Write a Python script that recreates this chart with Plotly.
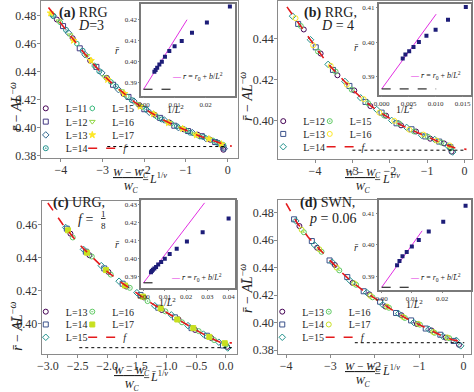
import plotly.graph_objects as go

W, H = 474, 392
FONT = "Liberation Serif"
GRAY = "#8a8a8a"

# ---------------- panel (a): RRG, D=3 ----------------
a_L11_x = [-4.10, -3.72, -3.30, -2.90, -2.50, -2.12, -1.75, -1.40, -1.05, -0.72, -0.42, -0.12, -0.10]
a_L11_y = [0.4772, 0.4638, 0.4478, 0.4355, 0.4240, 0.4160, 0.4090, 0.4035, 0.3986, 0.3948, 0.3912, 0.3868, 0.3840]
a_L12_x = [-3.95, -3.55, -3.15, -2.75, -2.38, -2.00, -1.62, -1.28, -0.95, -0.62, -0.30, -0.10]
a_L12_y = [0.4725, 0.4566, 0.4433, 0.4305, 0.4218, 0.4130, 0.4068, 0.4012, 0.3974, 0.3937, 0.3895, 0.3856]
a_L13_x = [-4.20, -3.82, -3.42, -3.02, -2.62, -2.25, -1.88, -1.52, -1.18, -0.85, -0.52, -0.20, -0.08]
a_L13_y = [0.4800, 0.4676, 0.4520, 0.4390, 0.4270, 0.4188, 0.4108, 0.4053, 0.3998, 0.3963, 0.3920, 0.3885, 0.3848]
a_L14_x = [-4.18, -3.88, -3.48, -3.08, -2.68, -2.30, -1.95, -1.58, -1.22, -0.90, -0.58, -0.25]
a_L14_y = [0.4798, 0.4698, 0.4548, 0.4402, 0.4293, 0.4195, 0.4127, 0.4057, 0.4008, 0.3962, 0.3931, 0.3890]
a_L15_x = [-4.22, -4.02, -3.62, -3.20, -2.80, -2.42, -2.05, -1.70, -1.35, -1.00, -0.68, -0.35, -0.10]
a_L15_y = [0.4810, 0.4752, 0.4600, 0.4442, 0.4325, 0.4222, 0.4146, 0.4076, 0.4028, 0.3980, 0.3936, 0.3906, 0.3875]
a_L16_x = [-4.05, -3.78, -3.38, -2.95, -2.55, -2.18, -1.82, -1.46, -1.12, -0.80, -0.48, -0.18]
a_L16_y = [0.4760, 0.4660, 0.4512, 0.4360, 0.4260, 0.4168, 0.4102, 0.4038, 0.3996, 0.3952, 0.3921, 0.3884]
a_L17_x = [-4.25, -3.70, -3.28, -2.88, -2.48, -2.10, -1.78, -1.42, -1.08, -0.75, -0.45, -0.15]
a_L17_y = [0.4818, 0.4622, 0.4478, 0.4342, 0.4242, 0.4150, 0.4096, 0.4032, 0.3990, 0.3945, 0.3917, 0.3880]
a_f_x = [-4.30, -4.00, -3.75, -3.50, -3.25, -3.00, -2.75, -2.50, -2.25, -2.00, -1.75, -1.50, -1.25,
         -1.00, -0.75, -0.50, -0.25, 0.00, 0.10]
a_f_y = [0.4858, 0.4741, 0.4645, 0.4552, 0.4463, 0.4380, 0.4308, 0.4243, 0.4185, 0.4133, 0.4087, 0.4047,
         0.4010, 0.3977, 0.3948, 0.3920, 0.3893, 0.3870, 0.3866]
a_base_x = [-2.89, -0.02]
a_base_y = [0.3863, 0.3863]
# inset (a)
ia_x = [0.0278, 0.0204, 0.0156, 0.0123, 0.0100, 0.0083, 0.0069, 0.0059, 0.0051, 0.0044, 0.0039, 0.0035]
ia_y = [0.4263, 0.4187, 0.4137, 0.4098, 0.4073, 0.4050, 0.4022, 0.3999, 0.3986, 0.3970, 0.3959, 0.3951]
ia_fit_x = [0.0, 0.0140]
ia_fit_y = [0.3866, 0.4200]
ia_r0_x = [0.0, 0.0098]
ia_r0_y = [0.3867, 0.3867]

# ---------------- panel (b): RRG, D=4 ----------------
b_L12_x = [-4.30, -3.85, -3.40, -2.95, -2.52, -2.10, -1.70, -1.30, -0.92, -0.55, -0.35]
b_L12_y = [0.4445, 0.4328, 0.4222, 0.4148, 0.4072, 0.4025, 0.3978, 0.3948, 0.3913, 0.3890, 0.3850]
b_L13_x = [-4.45, -3.98, -3.52, -3.08, -2.65, -2.22, -1.82, -1.42, -1.05, -0.68, -0.38]
b_L13_y = [0.4472, 0.4358, 0.4248, 0.4170, 0.4092, 0.4040, 0.3988, 0.3959, 0.3924, 0.3899, 0.3872]
b_L14_x = [-4.60, -4.12, -3.65, -3.20, -2.78, -2.35, -1.95, -1.55, -1.15, -0.80, -0.45, -0.32]
b_L14_y = [0.4510, 0.4395, 0.4275, 0.4192, 0.4112, 0.4055, 0.4002, 0.3968, 0.3930, 0.3909, 0.3878, 0.3848]
b_L15_x = [-4.38, -3.92, -3.45, -3.02, -2.58, -2.15, -1.75, -1.35, -0.98, -0.62, -0.36]
b_L15_y = [0.4462, 0.4338, 0.4240, 0.4152, 0.4086, 0.4026, 0.3987, 0.3948, 0.3922, 0.3894, 0.3868]
b_L16_x = [-4.52, -4.05, -3.58, -3.15, -2.70, -2.28, -1.88, -1.48, -1.10, -0.75, -0.40]
b_L16_y = [0.4500, 0.4368, 0.4268, 0.4176, 0.4106, 0.4040, 0.4000, 0.3957, 0.3933, 0.3904, 0.3880]
b_f_x = [-4.75, -4.50, -4.25, -4.00, -3.75, -3.50, -3.25, -3.00, -2.75, -2.50, -2.25, -2.00, -1.75,
         -1.50, -1.25, -1.00, -0.75, -0.50, -0.25, 0.00, 0.05]
b_f_y = [0.4555, 0.4490, 0.4425, 0.4360, 0.4300, 0.4247, 0.4198, 0.4152, 0.4110, 0.4072, 0.4040, 0.4010,
         0.3984, 0.3962, 0.3942, 0.3922, 0.3902, 0.3883, 0.3868, 0.3861, 0.3861]
b_base_x = [-3.00, 0.00]
b_base_y = [0.3857, 0.3857]
# inset (b)
ib_x = [0.0156, 0.0123, 0.0100, 0.0083, 0.0069, 0.0059, 0.0051, 0.0044, 0.0039]
ib_y = [0.4102, 0.4065, 0.4036, 0.4018, 0.4000, 0.3986, 0.3973, 0.3964, 0.3952]
ib_fit_x = [0.0, 0.0101]
ib_fit_y = [0.3864, 0.4081]
ib_r0_x = [0.0, 0.0101]
ib_r0_y = [0.3864, 0.3864]

# ---------------- panel (c): URG, f=1/8 ----------------
c_L13_x = [-2.62, -2.30, -1.98, -1.68, -1.38, -1.08, -0.80, -0.52, -0.25, 0.02]
c_L13_y = [0.4545, 0.4415, 0.4314, 0.4226, 0.4160, 0.4084, 0.4028, 0.3964, 0.3916, 0.3862]
c_L14_x = [-2.68, -2.36, -2.05, -1.74, -1.44, -1.14, -0.86, -0.58, -0.32, -0.05]
c_L14_y = [0.4575, 0.4436, 0.4335, 0.4243, 0.4175, 0.4098, 0.4040, 0.3975, 0.3929, 0.3870]
c_L15_x = [-2.70, -2.40, -2.10, -1.80, -1.50, -1.20, -0.92, -0.64, -0.38, -0.12, 0.03]
c_L15_y = [0.4582, 0.4450, 0.4352, 0.4258, 0.4189, 0.4110, 0.4055, 0.3990, 0.3939, 0.3890, 0.3855]
c_L16_x = [-2.58, -2.26, -1.94, -1.62, -1.32, -1.02, -0.74, -0.46, -0.20, 0.00]
c_L16_y = [0.4522, 0.4407, 0.4298, 0.4218, 0.4138, 0.4076, 0.4010, 0.3957, 0.3903, 0.3875]
c_L17_x = [-2.66, -2.34, -2.02, -1.70, -1.40, -1.10, -0.82, -0.55, -0.28, -0.02]
c_L17_y = [0.4565, 0.4430, 0.4325, 0.4232, 0.4165, 0.4094, 0.4027, 0.3975, 0.3922, 0.3884]
c_f_x = [-3.00, -2.75, -2.50, -2.25, -2.00, -1.75, -1.50, -1.25, -1.00, -0.75, -0.50, -0.25, -0.10, 0.00, 0.10]
c_f_y = [0.4730, 0.4602, 0.4490, 0.4400, 0.4316, 0.4247, 0.4186, 0.4124, 0.4069, 0.4015, 0.3962, 0.3914,
         0.3890, 0.3886, 0.3886]
c_base_x = [-2.47, 0.10]
c_base_y = [0.3857, 0.3857]
# inset (c)
ic_x = [0.0400, 0.0278, 0.0204, 0.0156, 0.0123, 0.0100, 0.0083, 0.0069, 0.0059, 0.0051, 0.0044, 0.0039, 0.0035]
ic_y = [0.4220, 0.4144, 0.4093, 0.4053, 0.4024, 0.3998, 0.3980, 0.3966, 0.3953, 0.3944, 0.3937, 0.3930, 0.3924]
ic_fit_x = [0.0, 0.0287]
ic_fit_y = [0.3865, 0.4307]
ic_r0_x = [0.0, 0.0070]
ic_r0_y = [0.3865, 0.3865]

# ---------------- panel (d): SWN, p=0.06 ----------------
d_L13_x = [-3.70, -3.30, -2.90, -2.50, -2.12, -1.76, -1.40, -1.05, -0.72, -0.40, -0.10]
d_L13_y = [0.4703, 0.4545, 0.4420, 0.4290, 0.4206, 0.4118, 0.4055, 0.3991, 0.3944, 0.3892, 0.3840]
d_L14_x = [-3.82, -3.42, -3.02, -2.62, -2.25, -1.88, -1.52, -1.18, -0.85, -0.52, -0.22]
d_L14_y = [0.4752, 0.4594, 0.4453, 0.4332, 0.4229, 0.4153, 0.4071, 0.4017, 0.3958, 0.3913, 0.3868]
d_L15_x = [-3.78, -3.36, -2.96, -2.56, -2.18, -1.82, -1.46, -1.12, -0.78, -0.46, -0.16, -0.06]
d_L15_y = [0.4740, 0.4566, 0.4440, 0.4307, 0.4220, 0.4131, 0.4066, 0.4002, 0.3953, 0.3900, 0.3872, 0.3832]
d_L16_x = [-3.60, -3.20, -2.80, -2.42, -2.05, -1.68, -1.32, -0.98, -0.65, -0.32]
d_L16_y = [0.4658, 0.4516, 0.4381, 0.4276, 0.4185, 0.4109, 0.4035, 0.3986, 0.3927, 0.3888]
d_L17_x = [-3.65, -3.25, -2.86, -2.46, -2.10, -1.72, -1.36, -1.02, -0.68, -0.36]
d_L17_y = [0.4676, 0.4534, 0.4401, 0.4286, 0.4196, 0.4117, 0.4042, 0.3992, 0.3932, 0.3893]
d_f_x = [-4.00, -3.75, -3.50, -3.25, -3.00, -2.75, -2.50, -2.25, -2.00, -1.75, -1.50, -1.25, -1.00,
         -0.75, -0.50, -0.25, 0.00, 0.05]
d_f_y = [0.4868, 0.4725, 0.4622, 0.4532, 0.4450, 0.4367, 0.4292, 0.4232, 0.4177, 0.4120, 0.4070, 0.4026,
         0.3986, 0.3945, 0.3908, 0.3876, 0.3859, 0.3858]
d_base_x = [-2.45, 0.02]
d_base_y = [0.3855, 0.3855]
# inset (d)
id_x = [0.0278, 0.0204, 0.0156, 0.0123, 0.0100, 0.0083, 0.0069, 0.0059, 0.0051]
id_y = [0.4124, 0.4073, 0.4042, 0.4015, 0.3994, 0.3977, 0.3963, 0.3948, 0.3935]
id_fit_x = [0.0, 0.0134]
id_fit_y = [0.3865, 0.4044]
id_r0_x = [0.0, 0.0096]
id_r0_y = [0.3865, 0.3865]

# ---------------- styles ----------------
VIR7 = ["#440154", "#443983", "#31688e", "#21918c", "#35b779", "#90d743", "#fde725"]
VIR5 = ["#440154", "#3b528b", "#21918c", "#5ec962", "#fde725"]
SYM7 = ["circle-open", "square-open", "diamond-open", "circle-open-dot", "hexagon-open",
        "triangle-down-open", "star"]
SYM5 = ["circle-open", "square-open", "diamond-open", "circle-open-dot", "circle-open"]
RED = "#e41a1c"
MAGENTA = "#e22fe2"
NAVY = "#1d1d78"


def dom_x(p0, p1):
    return [p0 / W, p1 / W]


def dom_y(top, bottom):
    return [1 - bottom / H, 1 - top / H]


fig = go.Figure()
leg_cells = []  # (legend name, symbol-centre x px, row y px)


def new_legend(mx, ry):
    name = "legend" if not leg_cells else f"legend{len(leg_cells) + 1}"
    leg_cells.append((name, mx, ry))
    return name


def add_main(series, xa, ya, fx, fy, bx, by, f_cell):
    for name, xs, ys, sym, col, cell in series:
        fig.add_trace(go.Scatter(
            x=xs, y=ys, mode="markers", name=name, legend=new_legend(*cell), xaxis=xa, yaxis=ya,
            marker=dict(symbol=sym, size=5, color=col, line=dict(width=1, color=col))))
    fig.add_trace(go.Scatter(x=bx, y=by, mode="lines", showlegend=False, xaxis=xa, yaxis=ya,
                             line=dict(color="black", width=1, dash="dot")))
    fig.add_trace(go.Scatter(x=fx, y=fy, mode="lines", name="<i>f</i>", legend=new_legend(*f_cell),
                             xaxis=xa, yaxis=ya, line=dict(color=RED, width=1.6, dash="dash")))


def add_inset(px, py, fx, fy, rx, ry, xa, ya):
    fig.add_trace(go.Scatter(x=fx, y=fy, mode="lines", showlegend=False, xaxis=xa, yaxis=ya,
                             line=dict(color=MAGENTA, width=1)))
    fig.add_trace(go.Scatter(x=rx, y=ry, mode="lines", showlegend=False, xaxis=xa, yaxis=ya,
                             line=dict(color="black", width=1, dash="dash")))
    fig.add_trace(go.Scatter(x=px, y=py, mode="markers", showlegend=False, xaxis=xa, yaxis=ya,
                             marker=dict(symbol="square", size=4, color=NAVY)))


A1, A2, AF = 41, 88, 99
a_series = [
    ("L=11", a_L11_x, a_L11_y, SYM7[0], VIR7[0], (A1, 109)),
    ("L=12", a_L12_x, a_L12_y, SYM7[1], VIR7[1], (A1, 122.5)),
    ("L=13", a_L13_x, a_L13_y, SYM7[2], VIR7[2], (A1, 136)),
    ("L=14", a_L14_x, a_L14_y, SYM7[3], VIR7[3], (A1, 149.5)),
    ("L=15", a_L15_x, a_L15_y, SYM7[4], VIR7[4], (A2, 109)),
    ("L=16", a_L16_x, a_L16_y, SYM7[5], VIR7[5], (A2, 122.5)),
    ("L=17", a_L17_x, a_L17_y, SYM7[6], VIR7[6], (A2, 136)),
]
B1, B2, BF = 281, 328, 340
b_series = [
    ("L=12", b_L12_x, b_L12_y, SYM5[0], VIR5[0], (B1, 122)),
    ("L=13", b_L13_x, b_L13_y, SYM5[1], VIR5[1], (B1, 135)),
    ("L=14", b_L14_x, b_L14_y, SYM5[2], VIR5[2], (B1, 148)),
    ("L=15", b_L15_x, b_L15_y, SYM5[3], VIR5[3], (B2, 122)),
    ("L=16", b_L16_x, b_L16_y, SYM5[4], VIR5[4], (B2, 135)),
]
C1, C2, CF = 41, 88, 99
c_series = [
    ("L=13", c_L13_x, c_L13_y, SYM5[0], VIR5[0], (C1, 315.5)),
    ("L=14", c_L14_x, c_L14_y, SYM5[1], VIR5[1], (C1, 328.5)),
    ("L=15", c_L15_x, c_L15_y, SYM5[2], VIR5[2], (C1, 341.5)),
    ("L=16", c_L16_x, c_L16_y, SYM5[3], VIR5[3], (C2, 315.5)),
    ("L=17", c_L17_x, c_L17_y, "square", "#c8e020", (C2, 328.5)),
]
D1, D2, DF = 280, 327, 339
d_series = [
    ("L=13", d_L13_x, d_L13_y, SYM5[0], VIR5[0], (D1, 315.5)),
    ("L=14", d_L14_x, d_L14_y, SYM5[1], VIR5[1], (D1, 328.5)),
    ("L=15", d_L15_x, d_L15_y, SYM5[2], VIR5[2], (D1, 341.5)),
    ("L=16", d_L16_x, d_L16_y, SYM5[3], VIR5[3], (D2, 315.5)),
    ("L=17", d_L17_x, d_L17_y, "circle-open", "#c8e020", (D2, 328.5)),
]

add_main(a_series, "x", "y", a_f_x, a_f_y, a_base_x, a_base_y, (AF, 149.5))
add_main(b_series, "x2", "y2", b_f_x, b_f_y, b_base_x, b_base_y, (BF, 148))
add_main(c_series, "x3", "y3", c_f_x, c_f_y, c_base_x, c_base_y, (CF, 341.5))
add_main(d_series, "x4", "y4", d_f_x, d_f_y, d_base_x, d_base_y, (DF, 341.5))
add_inset(ia_x, ia_y, ia_fit_x, ia_fit_y, ia_r0_x, ia_r0_y, "x5", "y5")
add_inset(ib_x, ib_y, ib_fit_x, ib_fit_y, ib_r0_x, ib_r0_y, "x6", "y6")
add_inset(ic_x, ic_y, ic_fit_x, ic_fit_y, ic_r0_x, ic_r0_y, "x7", "y7")
add_inset(id_x, id_y, id_fit_x, id_fit_y, id_r0_x, id_r0_y, "x8", "y8")

main_ax = dict(showline=True, linecolor=GRAY, linewidth=1, mirror=True, ticks="outside", ticklen=3,
               tickwidth=1, tickcolor=GRAY, showgrid=False, zeroline=False, ticklabelstandoff=-2,
               tickfont=dict(family=FONT, size=12, color="#333333"))
ins_ax = dict(showline=True, linecolor="#7a7a7a", linewidth=1.6, mirror=True, ticks="outside", ticklen=1,
              tickwidth=1, tickcolor=GRAY, showgrid=False, zeroline=False,
              tickfont=dict(family=FONT, size=7, color="#333333"))

layout = dict(
    width=W, height=H, margin=dict(l=0, r=0, t=0, b=0),
    paper_bgcolor="white", plot_bgcolor="white",
    xaxis=dict(main_ax, domain=dom_x(36, 235), range=[-4.489, 0.2375], tickvals=[-4, -3, -2, -1, 0], anchor="y"),
    yaxis=dict(main_ax, domain=dom_y(0.5, 159), range=[0.3784, 0.4901], tickvals=[0.38, 0.40, 0.42, 0.44, 0.46, 0.48],
               tickformat=".2f", anchor="x"),
    xaxis2=dict(main_ax, domain=dom_x(276, 472), range=[-4.987, 0.198], tickvals=[-4, -3, -2, -1, 0], anchor="y2"),
    yaxis2=dict(main_ax, domain=dom_y(0.5, 160), range=[0.38163, 0.45813], tickvals=[0.40, 0.42, 0.44],
                tickformat=".2f", anchor="x2"),
    xaxis3=dict(main_ax, domain=dom_x(37, 234), range=[-3.105, 0.178],
                tickvals=[-3.0, -2.5, -2.0, -1.5, -1.0, -0.5, 0.0], tickformat=".1f", anchor="y3"),
    yaxis3=dict(main_ax, domain=dom_y(203, 358), range=[0.38217, 0.47426], tickvals=[0.40, 0.42, 0.44, 0.46],
                tickformat=".2f", anchor="x3"),
    xaxis4=dict(main_ax, domain=dom_x(276, 471), range=[-4.181, 0.172], tickvals=[-4, -3, -2, -1, 0], anchor="y4"),
    yaxis4=dict(main_ax, domain=dom_y(202, 358), range=[0.37764, 0.4893],
                tickvals=[0.38, 0.40, 0.42, 0.44, 0.46, 0.48], tickformat=".2f", anchor="x4"),
    xaxis5=dict(ins_ax, domain=dom_x(137.7, 232), range=[-0.00073, 0.0293], tickvals=[0.0, 0.01, 0.02],
                tickformat=".2f", anchor="y5"),
    yaxis5=dict(ins_ax, domain=dom_y(3, 96), range=[0.38368, 0.42755], tickvals=[0.39, 0.40, 0.41, 0.42],
                tickformat=".2f", anchor="x5"),
    xaxis6=dict(ins_ax, domain=dom_x(377.7, 471), range=[-0.00055, 0.01657],
                tickvals=[0.0, 0.005, 0.010, 0.015], tickformat=".3f", anchor="y6"),
    yaxis6=dict(ins_ax, domain=dom_y(3, 95), range=[0.38477, 0.41106], tickvals=[0.39, 0.40, 0.41],
                tickformat=".2f", anchor="x6"),
    xaxis7=dict(ins_ax, domain=dom_x(137.7, 232.7), range=[-0.00107, 0.04312],
                tickvals=[0.0, 0.01, 0.02, 0.03, 0.04], tickformat=".2f", anchor="y7"),
    yaxis7=dict(ins_ax, domain=dom_y(201.7, 291.7), range=[0.3835, 0.4325],
                tickvals=[0.39, 0.40, 0.41, 0.42, 0.43], tickformat=".2f", anchor="x7"),
    xaxis8=dict(ins_ax, domain=dom_x(377.7, 471), range=[-0.00098, 0.02961], tickvals=[0.0, 0.01, 0.02],
                tickformat=".2f", anchor="y8"),
    yaxis8=dict(ins_ax, domain=dom_y(202.5, 293.3), range=[0.38569, 0.41406], tickvals=[0.39, 0.40, 0.41],
                tickformat=".2f", anchor="x8"),
    hovermode=False,
)

LEG_OFF = 20
for lname, mx, ry in leg_cells:
    layout[lname] = dict(x=(mx - LEG_OFF) / W, y=1 - ry / H, xanchor="left", yanchor="middle",
                         orientation="v", bgcolor="rgba(0,0,0,0)", borderwidth=0,
                         font=dict(family=FONT, size=10, color="#222222"), itemwidth=30)

fig.update_layout(**layout)

# ---------------- text ----------------
ann = []


def A(text, x, y, size=12, xanchor="center", yanchor="middle", angle=0, align="center", color="#222222"):
    ann.append(dict(text=text, x=x / W, y=1 - y / H, xref="paper", yref="paper", showarrow=False,
                    xanchor=xanchor, yanchor=yanchor, textangle=angle, align=align,
                    font=dict(family=FONT, size=size, color=color)))


RBAR = "r\u0304"
LBAR = "L\u0304"
A(f"<i>{RBAR}</i> − <i>AL</i><sup>−<i>ω</i></sup>", 11, 107, size=14, angle=-90)
A(f"<i>{RBAR}</i> − <i>AL</i><sup>−<i>ω</i></sup>", 243, 97, size=14, angle=-90)
A(f"<i>{RBAR}</i> − <i>A{LBAR}</i><sup>−<i>ω</i></sup>", 11, 330, size=14, angle=-90)
A(f"<i>{RBAR}</i> − <i>A{LBAR}</i><sup>−<i>ω</i></sup>", 243, 292, size=14, angle=-90)
FRAC = "<u><i>W</i> − <i>W</i><sub><i>C</i></sub></u><br><i>W</i><sub><i>C</i></sub>"
A(FRAC, 127, 182, size=11)
A("<i>L</i><sup>1/<i>ν</i></sup>", 144, 180, size=12, xanchor="left")
A(FRAC, 362, 182, size=11)
A("<i>L</i><sup>1/<i>ν</i></sup>", 379, 180, size=12, xanchor="left")
A(FRAC, 128, 383, size=11)
A(f"<i>{LBAR}</i><sup>1/<i>ν</i></sup>", 145, 381, size=12, xanchor="left")
A(FRAC, 362, 379, size=11)
A(f"<i>{LBAR}</i><sup>1/<i>ν</i></sup>", 379, 375, size=12, xanchor="left")
A("<b>(a)</b> RRG", 53, 12, size=14, xanchor="left")
A("<i>D</i>=3", 72, 25, size=14, xanchor="left")
A("<b>(b)</b> RRG,", 300, 12, size=14, xanchor="left")
A("<i>D</i> = 4", 317, 25, size=14, xanchor="left")
A("<b>(c)</b> URG,", 46, 205, size=14, xanchor="left")
A("<i>f</i> = ", 72, 222, size=14, xanchor="left")
A("<u>1</u><br>8", 100, 222, size=9)
A("<b>(d)</b> SWN,", 296, 205, size=14, xanchor="left")
A("<i>p</i> = 0.06", 305, 221, size=14, xanchor="left")
A(f"<i>{RBAR}</i>", 114, 50, size=10)
A("1/<i>L</i><sup>2</sup>", 172, 110, size=10)
A(f"<i>{RBAR}</i>", 355, 47, size=10)
A("1/<i>L</i><sup>2</sup>", 404, 110, size=10)
A(f"<i>{RBAR}</i>", 114, 247, size=10)
A(f"1/<i>{LBAR}</i><sup>2</sup>", 164, 306, size=10)
A(f"<i>{RBAR}</i>", 355, 250, size=10)
A(f"1/<i>{LBAR}</i><sup>2</sup>", 414, 308, size=10)
KEY = f"<span style='color:{MAGENTA}'>—</span> "
A(KEY + f"<i>{RBAR}</i> = <i>r</i><sub>0</sub> + <i>b</i>/<i>L</i><sup>2</sup>", 167, 77, size=8, xanchor="left")
A(KEY + f"<i>{RBAR}</i> = <i>r</i><sub>0</sub> + <i>b</i>/<i>L</i><sup>2</sup>", 407, 76, size=8, xanchor="left")
A(KEY + f"<i>{RBAR}</i> = <i>r</i><sub>0</sub> + <i>b</i>/<i>L</i><sup>2</sup>", 166, 281, size=8, xanchor="left")
A(KEY + f"<i>{RBAR}</i> = <i>r</i><sub>0</sub> + <i>b</i>/<i>{LBAR}</i><sup>2</sup>", 407, 281, size=8, xanchor="left")

fig.update_layout(annotations=ann)
fig.write_html("out.html", config={"displayModeBar": False},
               post_script="document.body.style.margin='0';document.body.style.padding='0';")
